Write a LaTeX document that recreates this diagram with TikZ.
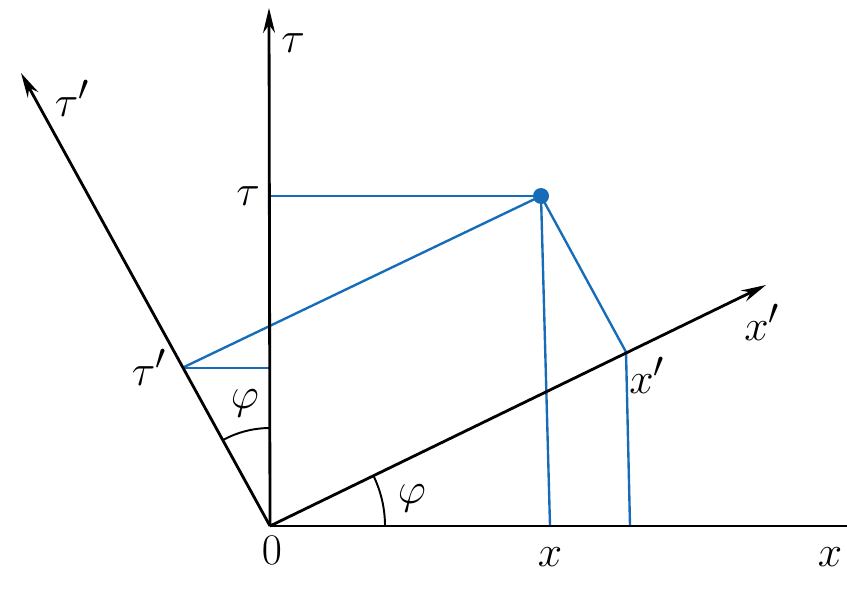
\documentclass[tikz,border=0pt]{standalone}
\usepackage{amsmath}
\usetikzlibrary{arrows.meta}
\definecolor{lineblue}{RGB}{22,108,185}

\begin{document}
\begin{tikzpicture}[x=0.02cm, y=0.02cm,
        axis/.style = {draw, line width=1.6pt, -{Stealth[length=5mm, width=2.4mm]}},
        proj/.style = {draw=lineblue, line width=1.35pt},
        dot/.style = {circle, fill=lineblue, inner sep=0pt, minimum size=0.32cm},
        lab/.style = {font=\Huge, inner sep=0pt},
        ang/.style = {draw, line width=1.1pt}]
        \useasboundingbox (0,0) rectangle (847,600);
        % axes end points
        \coordinate (O) at (270,74);
        \coordinate (T) at (269,592);
        \coordinate (Tp) at (21,527);
        \coordinate (Xp) at (766,315);
        \coordinate (X) at (847,74);
        % the event and its projections
        \node[dot] (P) at (541,404) {};
        \coordinate (tau) at (269,404);
        \coordinate (taup) at (182,232);
        \coordinate (taup0) at (269,232);
        \coordinate (xp) at (626,248);
        \coordinate (x) at (550,74);
        \coordinate (xp0) at (630,74);
        \draw[proj] (tau) -- (P.center);
        \draw[proj] (P.center) -- (x);
        \draw[proj] (P.center) -- (taup);
        \draw[proj] (P.center) -- (xp);
        \draw[proj] (taup) -- (taup0);
        \draw[proj] (xp) -- (xp0);
        \draw[axis] (O) -- (T);
        \draw[axis] (O) -- (Tp);
        \draw[axis] (O) -- (Xp);
        \draw[draw, line width=1.4pt] (O) -- (X);
        % angles
        \draw[ang] (O) ++(90:98) arc[start angle=90, end angle=118.8, radius=98];
        \draw[ang] (O) ++(0:115) arc[start angle=0, end angle=25.9, radius=115];
        % labels
        \node[lab] (Tlab) at (293,557) {$\tau$};
        \node[lab] (Tplab) at (72,502) {$\tau'$};
        \node[lab] (taulab) at (248,404) {$\tau$};
        \node[lab] (tauplab) at (149,233) {$\tau'$};
        \node[lab] (Xplab) at (762,278) {$x'$};
        \node[lab] (xplab) at (647,225) {$x'$};
        \node[lab] (Olab) at (272,50) {$0$};
        \node[lab] (xlab) at (550,43) {$x$};
        \node[lab] (Xlab) at (830,43) {$x$};
        \node[lab] (phi1) at (245,197) {$\varphi$};
        \node[lab] (phi2) at (412,102) {$\varphi$};
    \end{tikzpicture}
\end{document}
